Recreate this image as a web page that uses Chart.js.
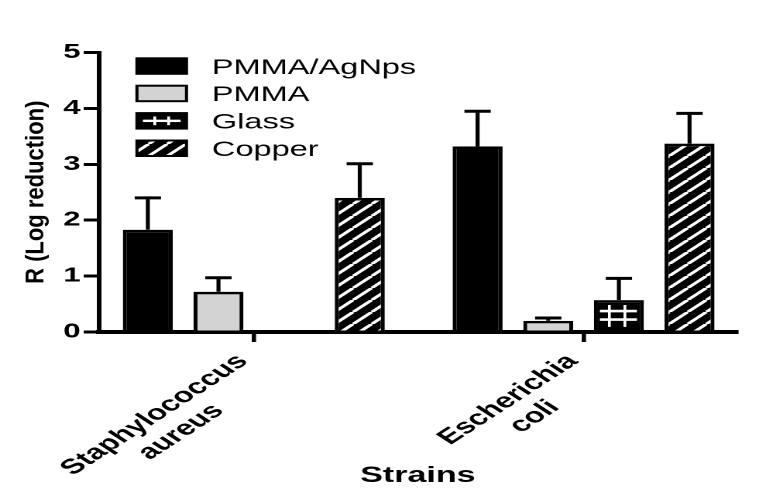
<!DOCTYPE html>
<html>
<head>
<meta charset="utf-8">
<script src="https://cdn.jsdelivr.net/npm/chart.js@4.4.1/dist/chart.umd.min.js"></script>
<style>
  html, body { margin: 0; padding: 0; background: #fff; overflow: hidden; }
  #wrap { width: 490px; height: 497px; transform: scaleX(1.549); transform-origin: 0 0; }
  canvas { display: block; }
</style>
</head>
<body>
<div id="wrap"><canvas id="c" width="490" height="497"></canvas></div>
<script>
// ---- data ----
const categories = [['Staphylococcus', 'aureus'], ['Escherichia', 'coli']];
const seriesNames = ['PMMA/AgNps', 'PMMA', 'Glass', 'Copper'];
const agnpsMean  = [1.83, 3.32];
const agnpsErr   = [0.57, 0.63];
const pmmaMean   = [0.72, 0.20];
const pmmaErr    = [0.25, 0.05];
const glassMean  = [null, 0.57];
const glassErr   = [null, 0.39];
const copperMean = [2.40, 3.37];
const copperErr  = [0.61, 0.54];
const yTicks = [0, 1, 2, 3, 4, 5];
const yTitle = 'R (Log reduction)';
const xTitle = 'Strains';

// ---- styling ----
const SX = 759 / 490;
const R = 2;
const FONT = "'Liberation Sans', Arial, Helvetica, sans-serif";
const GLASS_INDEX = 2;

function makePattern(w, h, draw) {
  const c = document.createElement('canvas');
  c.width = Math.round(w * R);
  c.height = Math.round(h * R);
  const g = c.getContext('2d');
  g.scale(R, R);
  draw(g, w, h);
  const p = g.createPattern(c, 'repeat');
  p.setTransform(new DOMMatrix().scale(1 / R));
  return p;
}

const copperPat = makePattern(12, 12, (g, T) => {
  g.fillStyle = '#000';
  g.fillRect(0, 0, T, T);
  g.strokeStyle = '#fff';
  g.lineWidth = 2.5;
  g.beginPath();
  for (let k = -1; k <= 1; k++) {
    g.moveTo(k * T, T);
    g.lineTo(k * T + T, 0);
  }
  g.stroke();
});

const fills = ['#000000', '#d3d3d3', '#000000', copperPat];
const means = [agnpsMean, pmmaMean, glassMean, copperMean];
const errs = [agnpsErr, pmmaErr, glassErr, copperErr];

const datasets = seriesNames.map((name, i) => ({
  label: name,
  data: means[i].map((v, j) => ({ x: j, y: v })),
  err: errs[i],
  backgroundColor: fills[i],
  borderColor: '#000',
  borderWidth: 2.6,
  borderSkipped: 'start',
  categoryPercentage: 0.857,
  barPercentage: 0.708
}));

// white "#" motif of the Glass fill, laid out relative to a box
function drawHash(ctx, left, top, w, h, legend) {
  ctx.save();
  ctx.fillStyle = '#fff';
  if (legend) {
    ctx.fillRect(left + w * 0.12, top + h * 0.5 - 1.2, w * 0.76, 2.4);
    [0.36, 0.64].forEach(f => ctx.fillRect(left + w * f - 0.9, top + h * 0.22, 1.8, h * 0.56));
  } else {
    [0.36, 0.64].forEach(f => ctx.fillRect(left + w * 0.12, top + h * f - 1.3, w * 0.74, 2.6));
    [0.31, 0.62].forEach(f => ctx.fillRect(left + w * f - 0.9, top + h * 0.16, 1.8, h * 0.72));
  }
  ctx.restore();
}

const errorBars = {
  id: 'errorBars',
  afterDatasetsDraw(chart) {
    const ctx = chart.ctx;
    const ys = chart.scales.y;
    chart.data.datasets.forEach((ds, i) => {
      const meta = chart.getDatasetMeta(i);
      meta.data.forEach((bar, j) => {
        const v = ds.data[j].y, e = ds.err[j];
        if (v == null || e == null) return;
        if (i === GLASS_INDEX) {
          const bw = bar.width;
          drawHash(ctx, bar.x - bw / 2, bar.y, bw, bar.base - bar.y, false);
        }
        const top = ys.getPixelForValue(v + e);
        ctx.save();
        ctx.strokeStyle = '#000';
        ctx.lineWidth = 2.6;
        ctx.beginPath();
        ctx.moveTo(bar.x, bar.y);
        ctx.lineTo(bar.x, top);
        ctx.stroke();
        ctx.lineWidth = 3;
        ctx.beginPath();
        ctx.moveTo(bar.x - 8.5, top);
        ctx.lineTo(bar.x + 8.5, top);
        ctx.stroke();
        ctx.restore();
      });
    });
  }
};

const extras = {
  id: 'extras',
  afterDraw(chart) {
    const ctx = chart.ctx;
    const ca = chart.chartArea;
    // x category labels (rotated, lines centred)
    const xs = chart.scales.x;
    categories.forEach((lines, i) => {
      const px = xs.getPixelForValue(i);
      ctx.save();
      ctx.translate(px - 7, ca.bottom + 26);
      ctx.rotate(-Math.PI / 4);
      ctx.font = 'bold 21px ' + FONT;
      ctx.fillStyle = '#000';
      ctx.textBaseline = 'middle';
      const w0 = ctx.measureText(lines[0]).width;
      ctx.textAlign = 'right';
      ctx.fillText(lines[0], 0, 0);
      ctx.textAlign = 'center';
      for (let k = 1; k < lines.length; k++) ctx.fillText(lines[k], -w0 / 2, k * 24);
      ctx.restore();
    });
    // y title
    ctx.save();
    ctx.translate(23.5, (ca.top + ca.bottom) / 2);
    ctx.scale(1.15 / SX, 1);
    ctx.rotate(-Math.PI / 2);
    ctx.font = 'bold 22px ' + FONT;
    ctx.fillStyle = '#000';
    ctx.textAlign = 'center';
    ctx.textBaseline = 'middle';
    ctx.fillText(yTitle, 0, 0);
    ctx.restore();
    // legend
    const lx = 88.4, ly = 58.3, step = 27.4, bw = 32, bh = 15.5, tx = 136.8;
    chart.data.datasets.forEach((ds, i) => {
      const top = ly + i * step;
      ctx.save();
      ctx.fillStyle = ds.backgroundColor;
      ctx.fillRect(lx, top, bw, bh);
      if (i === GLASS_INDEX) drawHash(ctx, lx, top, bw, bh, true);
      ctx.lineWidth = 2;
      ctx.strokeStyle = '#000';
      ctx.strokeRect(lx, top, bw, bh);
      ctx.font = '21px ' + FONT;
      ctx.fillStyle = '#000';
      ctx.textAlign = 'left';
      ctx.textBaseline = 'alphabetic';
      ctx.fillText(ds.label, tx, top + bh);
      ctx.restore();
    });
  }
};

Chart.defaults.color = '#000';
Chart.defaults.font.family = FONT;

new Chart(document.getElementById('c'), {
  type: 'bar',
  data: { datasets },
  options: {
    responsive: false,
    devicePixelRatio: R,
    animation: false,
    events: [],
    layout: { padding: { left: 0, right: 14.5, top: 52.5, bottom: 0 } },
    plugins: { legend: { display: false }, tooltip: { enabled: false } },
    scales: {
      x: {
        type: 'linear',
        min: -0.469,
        max: 1.464,
        offset: false,
        z: 1,
        afterBuildTicks: s => { s.ticks = categories.map((c, i) => ({ value: i })); },
        afterFit: s => { s.height = 165; },
        ticks: { display: false },
        grid: { display: true, offset: false, drawOnChartArea: false, drawTicks: true, tickLength: 10, lineWidth: 2.8, color: '#000' },
        border: { display: true, color: '#000', width: 4 },
        title: { display: true, text: xTitle, color: '#000', font: { size: 22, weight: 'bold' }, padding: { top: 0, bottom: 8 } }
      },
      y: {
        min: 0,
        max: 5,
        afterBuildTicks: s => { s.ticks = yTicks.map(v => ({ value: v })); },
        afterFit: s => { s.width = 64; },
        ticks: { color: '#000', font: { size: 20, weight: 'bold' }, padding: 2 },
        grid: { drawOnChartArea: false, drawTicks: true, tickLength: 10, lineWidth: 3, color: '#000' },
        border: { display: true, color: '#000', width: 3 }
      }
    }
  },
  plugins: [errorBars, extras]
});
</script>
</body>
</html>
